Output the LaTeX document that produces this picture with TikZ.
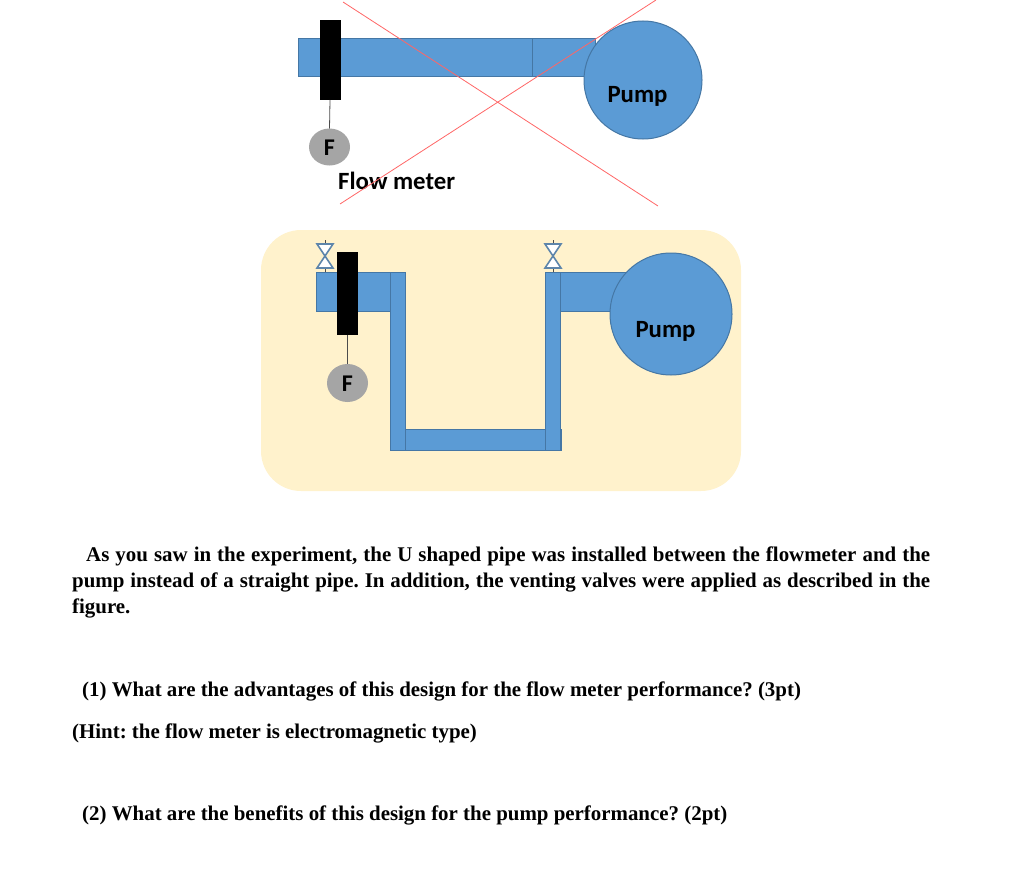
\documentclass[tikz,border=0pt]{standalone}
\usepackage{fontspec}
\setmainfont{Liberation Serif}
\newfontfamily\calibri{Carlito}
\usetikzlibrary{positioning}
\usetikzlibrary{shapes.geometric}

\definecolor{pipeblue}{HTML}{5B9BD5}
\definecolor{pipeedge}{HTML}{41719C}
\definecolor{gaugegray}{HTML}{A5A5A5}
\definecolor{panel}{HTML}{FFF2CC}
\tikzset{
	pipe/.style={draw=pipeedge!85!pipeblue, fill=pipeblue, line width=1pt, inner sep=0pt, outer sep=0pt},
	pumpbody/.style={pipe, circle},
	bigtext/.style={inner sep=0pt, font=\calibri\bfseries\fontsize{24.8}{25}\selectfont},
	meter/.style={fill=black, inner sep=0pt, outer sep=0pt, minimum width=21pt},
	gauge/.style={ellipse, fill=gaugegray, inner sep=0pt, outer sep=0pt},
	gaugetext/.style={inner sep=0pt, font=\calibri\bfseries\fontsize{24}{24}\selectfont},
	para/.style={inner sep=0pt, anchor=west, font=\bfseries\fontsize{20.9}{26}\selectfont},
	wrongline/.style={draw=red!60!white, line width=0.8pt},
	stem/.style={draw=black!70, line width=0.8pt},
	valvepart/.style={draw=pipeedge!85!white, fill=white, line width=1.6pt, line join=miter},
}

\begin{document}
\begin{tikzpicture}[x=1pt, y=-1pt]
	\useasboundingbox (0,0) rectangle (1024,883);

	% straight layout
	\node[pipe, minimum width=297pt, minimum height=37pt] (Straight) at (446.5,57.5) {};
	\draw[pipeedge!85!pipeblue, line width=1pt] (Straight.north -| 532,0) -- (Straight.south -| 532,0);
	\node[meter, minimum height=80pt] (Meter1) at (330,60) {};
	\node[gauge, minimum width=41pt, minimum height=37pt] (F1) at (329.5,147) {};
	\node[gaugetext] (FText1) at (329.5,148) {F};
	\node[pumpbody, minimum size=118pt] (Pump1) at (643,80) {};
	\node[bigtext] (PumpText1) at (637.5,96) {Pump};
	\node[bigtext, anchor=west] (FlowText) at (338,181) {Flow meter};
	\draw[stem] (Meter1.south) -- (F1.north);

	\coordinate (C1) at (343,2);
	\coordinate (C2) at (658,206);
	\coordinate (C3) at (656,0);
	\coordinate (C4) at (340,204);
	\draw[wrongline] (C1) -- (C2);
	\draw[wrongline] (C3) -- (C4);

	% U shaped layout
	\node[fill=panel, rounded corners=40pt, minimum width=480pt, minimum height=261pt, inner sep=0pt] (Panel) at (501,360.5) {};
	\foreach \x in {325,553} {
		\coordinate (StemTop\x) at (\x,240);
		\coordinate (StemEnd\x) at (\x,273);
		\draw[stem] (StemTop\x) -- (StemEnd\x);
		\draw[valvepart] (\x-8,244) -- (\x+8,244) -- (\x,256) -- cycle;
		\draw[valvepart] (\x-8,268) -- (\x+8,268) -- (\x,256) -- cycle;
	}
	\node[pipe, minimum width=74pt, minimum height=39pt] (InPipe) at (353,291.5) {};
	\node[pipe, minimum width=156pt, minimum height=21pt] (BottomPipe) at (483,439.5) {};
	\node[pipe, minimum width=15pt, minimum height=178pt] (LeftPipe) at (397.5,361) {};
	\node[pipe, minimum width=15pt, minimum height=178pt] (RightPipe) at (552.5,361) {};
	\node[pipe, minimum width=70pt, minimum height=39pt] (OutPipe) at (595,291.5) {};
	\node[meter, minimum height=83pt] (Meter2) at (347.5,293.5) {};
	\node[gauge, minimum width=41pt, minimum height=38pt] (F2) at (347.5,383) {};
	\node[gaugetext] (FText2) at (347.5,384) {F};
	\node[pumpbody, minimum size=122pt] (Pump2) at (671,314) {};
	\node[bigtext] (PumpText2) at (665.5,331) {Pump};
	\draw[stem] (Meter2.south) -- (F2.north);

	% question text
	\node[para, text width=858pt, align=justify] (Intro) at (72,582) {\frenchspacing\hspace*{14pt}As you saw in the experiment, the U shaped pipe was installed between the flowmeter and the pump instead of a straight pipe. In addition, the venting valves were applied as described in the figure.};
	\node[para] (Q1) at (82,691) {\frenchspacing (1) What are the advantages of this design for the flow meter performance? (3pt)};
	\node[para] (Hint) at (72,733) {\frenchspacing (Hint: the flow meter is electromagnetic type)};
	\node[para] (Q2) at (82,815) {\frenchspacing (2) What are the benefits of this design for the pump performance? (2pt)};
\end{tikzpicture}
\end{document}
